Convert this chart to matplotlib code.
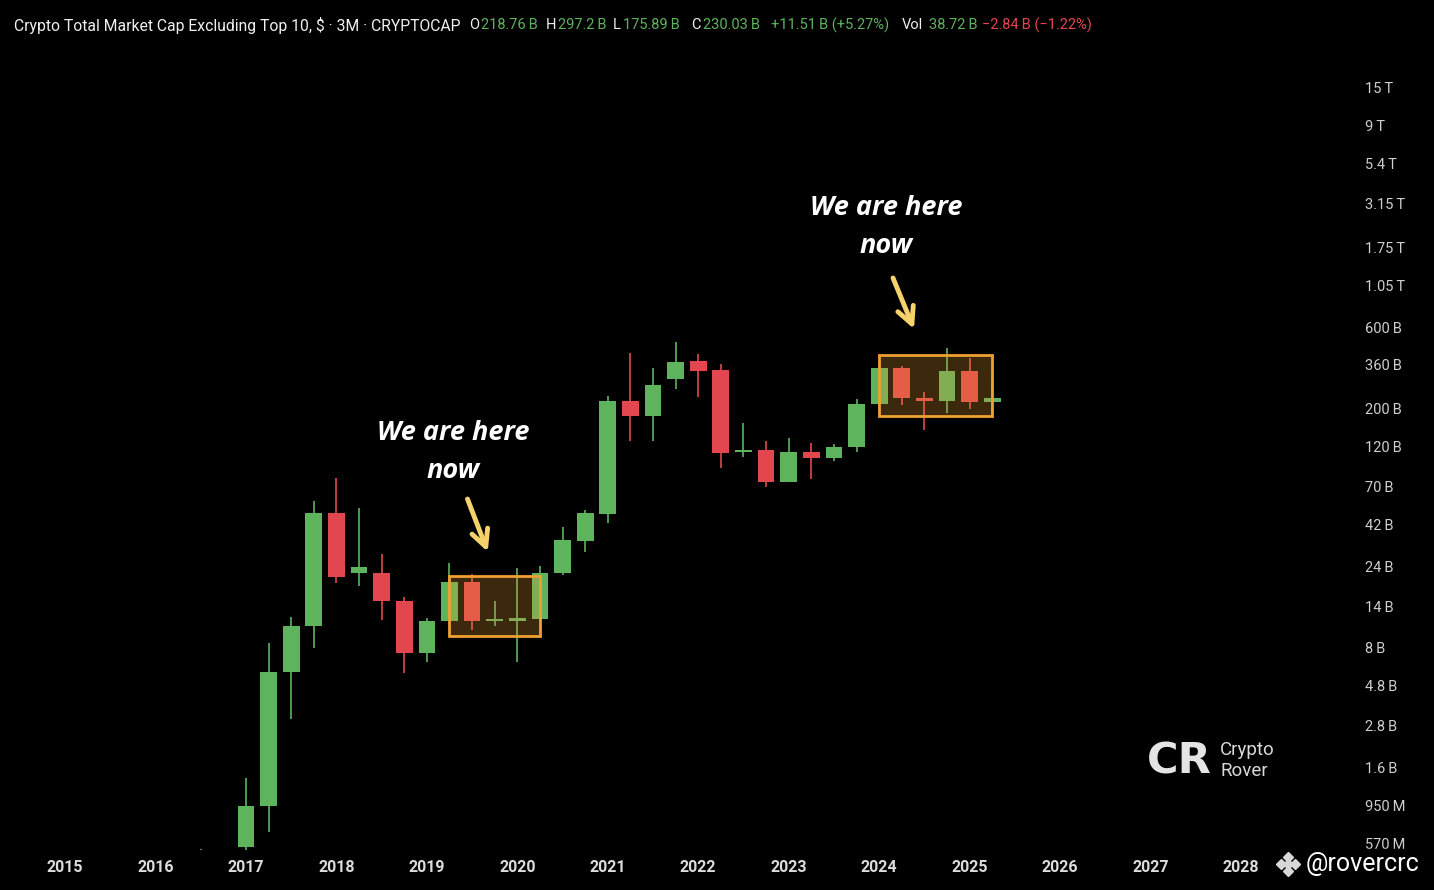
import numpy as np
import matplotlib
matplotlib.use("Agg")
import matplotlib.pyplot as plt
from matplotlib.patches import Rectangle
from matplotlib.lines import Line2D

# quarterly candles, x = fractional year of the quarter open, values in billions USD
quarters = [2016.5,
            2017.0, 2017.25, 2017.5, 2017.75,
            2018.0, 2018.25, 2018.5, 2018.75,
            2019.0, 2019.25, 2019.5, 2019.75,
            2020.0, 2020.25, 2020.5, 2020.75,
            2021.0, 2021.25, 2021.5, 2021.75,
            2022.0, 2022.25, 2022.5, 2022.75,
            2023.0, 2023.25, 2023.5, 2023.75,
            2024.0, 2024.25, 2024.5, 2024.75,
            2025.0, 2025.25]
opens = [0.45,
         0.546, 0.95, 5.79, 10.75,
         49.0, 21.9, 22.0, 15.06,
         7.45, 11.5, 19.4, 11.4,
         11.45, 11.8, 21.8, 33.8,
         48.4, 221.6, 181.5, 296.8,
         379.6, 335.0, 111.1, 114.6,
         74.8, 112.0, 102.9, 119.0,
         212.8, 347.0, 230.7, 222.5,
         333.3, 218.76]
highs = [0.535,
         1.38, 8.52, 12.09, 57.7,
         78.6, 52.5, 28.2, 15.8,
         11.9, 25.1, 21.6, 15.0,
         23.5, 24.1, 40.8, 51.1,
         237.0, 424.6, 347.0, 488.6,
         415.6, 363.2, 164.1, 129.3,
         134.1, 125.4, 124.3, 227.7,
         355.0, 356.5, 249.2, 450.6,
         397.0, 297.2]
lows = [0.44,
        0.52, 0.671, 3.06, 8.0,
        19.1, 18.35, 11.6, 5.69,
        6.6, 11.4, 10.15, 10.7,
        6.62, 11.7, 21.3, 29.1,
        42.7, 129.3, 129.8, 260.4,
        234.9, 90.3, 104.7, 69.9,
        74.5, 77.2, 99.2, 111.1,
        210.0, 210.0, 150.0, 187.8,
        200.0, 175.89]
closes = [0.50,
          0.949, 5.79, 10.75, 49.0,
          20.7, 23.8, 15.06, 7.45,
          11.5, 19.4, 11.5, 11.85,
          11.9, 21.8, 34.1, 48.9,
          221.6, 181.0, 274.9, 376.1,
          333.3, 110.5, 114.6, 74.8,
          112.0, 102.4, 119.8, 212.8,
          347.0, 229.8, 221.6, 333.3,
          217.8, 230.03]

# price scale labels
tick_vals = [15000, 9000, 5400, 3150, 1750, 1050, 600, 360, 200, 120,
             70, 42, 24, 14, 8, 4.8, 2.8, 1.6, 0.95, 0.57]
tick_text = ["15\u2009T", "9\u2009T", "5.4\u2009T", "3.15\u2009T", "1.75\u2009T",
             "1.05\u2009T", "600\u2009B", "360\u2009B", "200\u2009B", "120\u2009B",
             "70\u2009B", "42\u2009B", "24\u2009B", "14\u2009B", "8\u2009B",
             "4.8\u2009B", "2.8\u2009B", "1.6\u2009B", "950\u2009M", "570\u2009M"]
years = list(range(2015, 2029))

# highlighted ranges: (x0, x1, low, high)
box_x0 = [2019.25, 2024.0]
box_x1 = [2020.25, 2025.25]
box_lo = [9.36, 181.8]
box_hi = [21.0, 411.8]

# annotation: text centre x, line values, arrow start/tip
note_x = [2019.29, 2024.08]
note_line1 = [145.0, 2970.0]
note_line2 = [86.0, 1790.0]
arrow_from = [(2019.449, 59.2), (2024.153, 1161.0)]
arrow_to = [(2019.673, 29.1), (2024.385, 584.4)]

GREEN = "#5db45d"
RED = "#e2474f"
ORANGE = "#f0a032"
FONT = ["Roboto", "DejaVu Sans"]

W, H = 1434, 890
fig = plt.figure(figsize=(W / 100, H / 100), dpi=100, facecolor="black")
ax = fig.add_axes([0, 1 - 850 / H, 1350 / W, 800 / H])
ax.set_facecolor("black")
ax.set_yscale("log")
ax.set_xlim(2014.281, 2029.205)
ax.set_ylim(0.525, 25000)

x = np.array(quarters)
o = np.array(opens)
c = np.array(closes)
hi = np.array(highs)
lo = np.array(lows)
cols = np.where(c >= o, GREEN, RED)

ax.vlines(x, lo, hi, colors=cols, lw=1.2, zorder=2)
ax.bar(x, np.abs(c - o), bottom=np.minimum(o, c), width=0.185,
       color=cols, edgecolor="none", zorder=3)

for x0, x1, b0, b1 in zip(box_x0, box_x1, box_lo, box_hi):
    ax.add_patch(Rectangle((x0, b0), x1 - x0, b1 - b0, facecolor=ORANGE,
                           alpha=0.25, edgecolor="none", zorder=4))
    ax.add_patch(Rectangle((x0, b0), x1 - x0, b1 - b0, facecolor="none",
                           edgecolor=ORANGE, lw=2, zorder=5))

for nx, y1, y2, a0, a1 in zip(note_x, note_line1, note_line2, arrow_from, arrow_to):
    for txt, yy in (("We are here", y1), ("now", y2)):
        ax.text(nx, yy, txt, color="white", fontsize=19.5, fontweight="bold",
                fontstyle="italic", family=["Open Sans", "DejaVu Sans"],
                ha="center", va="center", zorder=6)
    ax.annotate("", xy=a1, xytext=a0,
                arrowprops=dict(arrowstyle="->", color="#f5d36a", lw=3.5,
                                mutation_scale=30, shrinkA=0, shrinkB=0),
                zorder=6)

# axes styling
for s in ax.spines.values():
    s.set_visible(False)
ax.yaxis.tick_right()
ax.set_yticks(tick_vals)
ax.set_yticklabels(tick_text)
ax.yaxis.set_minor_locator(matplotlib.ticker.NullLocator())
ax.tick_params(axis="y", length=0, pad=10.8, labelcolor="#cfcfcf", labelsize=10.5)
ax.set_xticks(years)
ax.set_xticklabels([str(y) for y in years])
ax.tick_params(axis="x", length=0, pad=7, labelcolor="#dcdcdc", labelsize=11.5)
for t in ax.get_xticklabels() + ax.get_yticklabels():
    t.set_family(FONT)
for t in ax.get_xticklabels():
    t.set_fontweight("bold")

# cover clipped part of lowest price label
fig.add_artist(Rectangle((1345 / W, 0), 1 - 1345 / W, 1 - 849 / H,
                         transform=fig.transFigure, color="black", zorder=2.5))

# header line
head = [(14, "Crypto Total Market Cap Excluding Top 10, $ \u00b7 3M \u00b7 CRYPTOCAP", "#f0f0f0", 11.3),
        (469, "O", "#f0f0f0", 10.5), (481, "218.76\u2009B", GREEN, 10.5),
        (546, "H", "#f0f0f0", 10.5), (558, "297.2\u2009B", GREEN, 10.5),
        (613, "L", "#f0f0f0", 10.5), (623, "175.89\u2009B", GREEN, 10.5),
        (691, "C", "#f0f0f0", 10.5), (703, "230.03\u2009B", GREEN, 10.5),
        (771, "+11.51\u2009B (+5.27%)", GREEN, 10.5),
        (902, "Vol", "#f0f0f0", 10.5), (929, "38.72\u2009B", GREEN, 10.5),
        (982, "\u22122.84\u2009B (\u22121.22%)", RED, 10.5)]
for px, txt, col, fs in head:
    fig.text(px / W, 1 - 25 / H, txt, color=col, fontsize=fs,
             family=FONT, ha="left", va="center", zorder=3)

# watermark
fig.text(1147 / W, 1 - 761 / H, "CR", color="#e4e4e4", fontsize=31,
         fontweight="bold", family=["DejaVu Sans"], ha="left", va="center",
         zorder=3)
fig.text(1220 / W, 1 - 750 / H, "Crypto", color="#d8d8d8", fontsize=13.5,
         family=FONT, ha="left", va="center", zorder=3)
fig.text(1220 / W, 1 - 771 / H, "Rover", color="#d8d8d8", fontsize=13.5,
         family=FONT, ha="left", va="center", zorder=3)

cx, cy, d = 1288, 864, 7
fig.add_artist(Line2D([(cx - d) / W, (cx + d) / W, cx / W, cx / W, cx / W],
                      [1 - cy / H, 1 - cy / H, 1 - (cy - d) / H, 1 - (cy + d) / H, 1 - cy / H],
                      transform=fig.transFigure, ls="none", marker="D",
                      markersize=5, color="#d8d8d8", zorder=3))
fig.text(1306 / W, 1 - 864 / H, "@rovercrc", color="white", fontsize=18,
         family=FONT, ha="left", va="center", zorder=3)

fig.savefig("out.png", dpi=100, facecolor="black")
